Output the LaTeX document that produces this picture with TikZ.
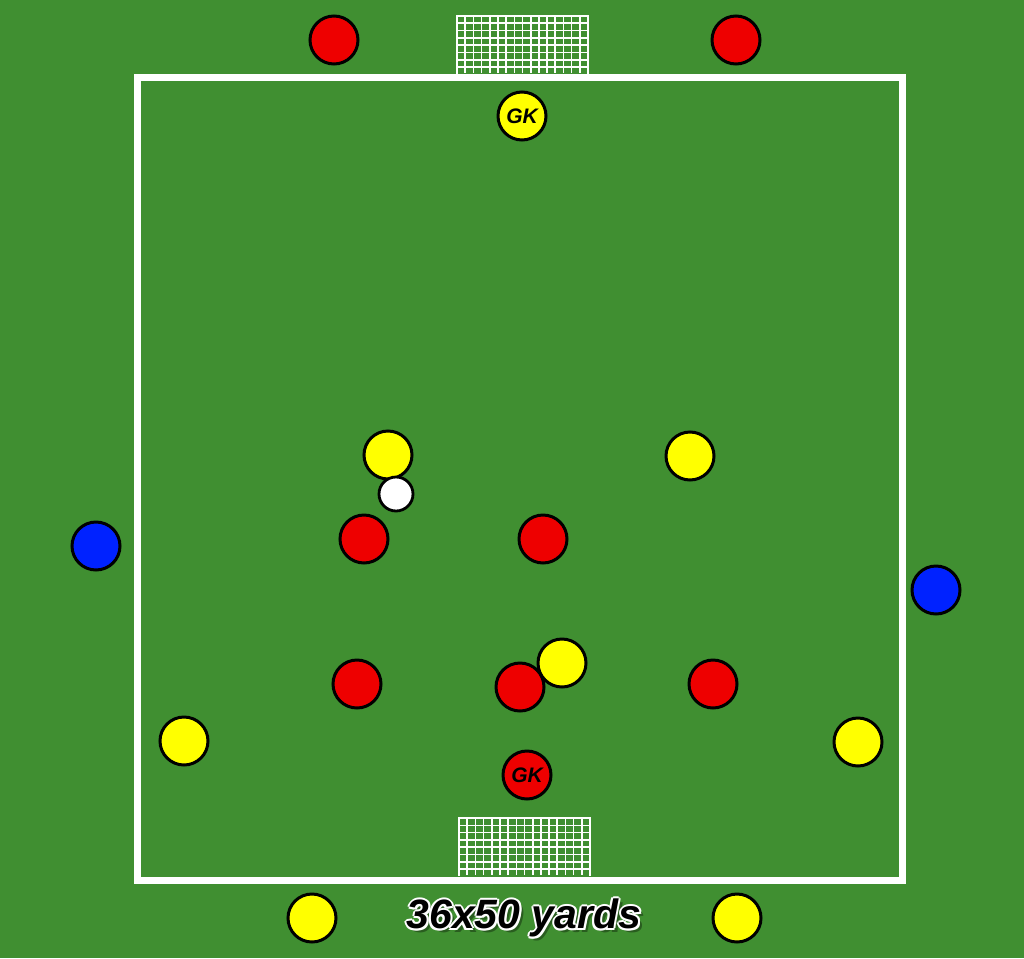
\documentclass[tikz,border=0pt]{standalone}
\usepackage{fontspec}
\setmainfont{Liberation Sans}
\definecolor{pitch}{RGB}{64,143,49}
\definecolor{pred}{RGB}{238,0,0}
\definecolor{pyellow}{RGB}{255,255,0}
\definecolor{pblue}{RGB}{0,34,255}
\begin{document}
\begin{tikzpicture}[x=1pt,y=-1pt,
  player/.style={circle,draw=black,line width=3pt,minimum size=48pt,inner sep=0pt},
  redp/.style={player,fill=pred},
  yellowp/.style={player,fill=pyellow},
  bluep/.style={player,fill=pblue},
  ballp/.style={circle,draw=black,line width=2.8pt,minimum size=34pt,inner sep=0pt,fill=white},
  gklabel/.style={font=\fontsize{21}{21}\selectfont\bfseries\itshape,text=black},
  netgrid/.style={white,line width=1.6pt},
  netframe/.style={white,line width=2.8pt},
  fieldline/.style={white,line width=7pt,line join=miter},
  captionfont/.style={font=\fontsize{41}{41}\selectfont\bfseries\itshape,inner sep=0pt}]
\useasboundingbox (0,0) rectangle (1024,958);
\fill[pitch] (0,0) rectangle (1024,958);
% goals
\foreach \gx/\gy in {457/16, 459/818}{
  \foreach \i in {1,...,15}{\draw[netgrid] (\gx+\i*8.19,\gy) -- (\gx+\i*8.19,\gy+57);}
  \foreach \j in {1,...,7}{\draw[netgrid] (\gx,\gy+\j*7.3) -- (\gx+131,\gy+\j*7.3);}
  \draw[netframe] (\gx,\gy+58) -- (\gx,\gy) -- (\gx+131,\gy) -- (\gx+131,\gy+58);
}
% field
\draw[fieldline] (137,77) rectangle (902,880);
% players
\node[redp] (rt1) at (334,40) {};
\node[redp] (rt2) at (736,40) {};
\node[yellowp] (gky) at (522,116) {};
\node[gklabel] (gkyl) at (gky.center) {GK};
\node[yellowp] (y1) at (388,455) {};
\node[yellowp] (y2) at (690,456) {};
\node[ballp] (ball) at (396,494) {};
\node[bluep] (b1) at (96,546) {};
\node[bluep] (b2) at (936,590) {};
\node[redp] (r1) at (364,539) {};
\node[redp] (r2) at (543,539) {};
\node[redp] (r3) at (357,684) {};
\node[redp] (r4) at (520,687) {};
\node[yellowp] (y3) at (562,663) {};
\node[redp] (r5) at (713,684) {};
\node[yellowp] (y4) at (184,741) {};
\node[yellowp] (y5) at (858,742) {};
\node[redp] (gkr) at (527,775) {};
\node[gklabel] (gkrl) at (gkr.center) {GK};
\node[yellowp] (y6) at (312,918) {};
\node[yellowp] (y7) at (737,918) {};
% caption: shadow, white outline, black text
\def\captxt{36x50 yards}
\node[captionfont,text=black,opacity=0.35] (capsh) at (528,922) {\captxt};
\foreach \dx/\dy in {-2/0,2/0,0/-2,0/2,-1.5/-1.5,1.5/1.5,-1.5/1.5,1.5/-1.5}{
  \node[captionfont,text=white] at (524+\dx,918+\dy) {\captxt};
}
\node[captionfont,text=black] (cap) at (524,918) {\captxt};
\end{tikzpicture}
\end{document}
